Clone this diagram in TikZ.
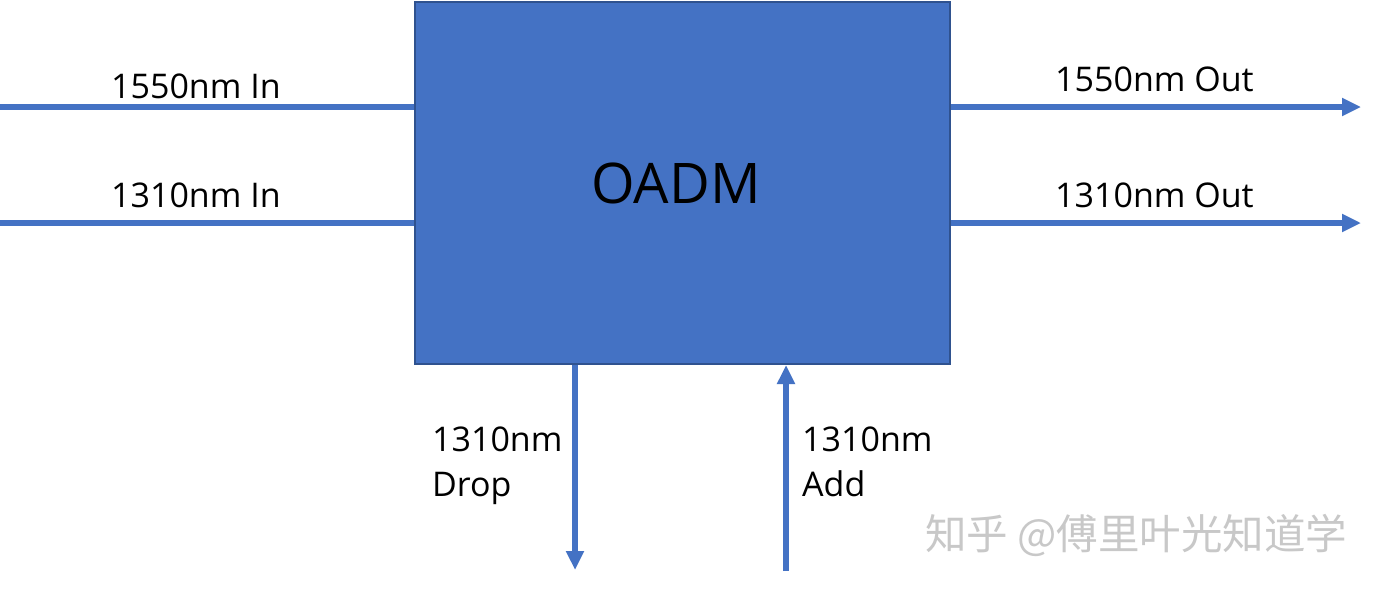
\documentclass[tikz,border=0pt]{standalone}
\usepackage{fontspec}
\setmainfont{Open Sans}
\newfontfamily\cjk{Noto Sans CJK SC}
\usetikzlibrary{arrows.meta}
\definecolor{oblue}{HTML}{4472C4}
\definecolor{oborder}{HTML}{2F528F}
\definecolor{wm}{HTML}{C8C8C8}
\begin{document}
\begin{tikzpicture}[x=1pt,y=-1pt,
  conn/.style={draw=oblue,line width=5.5pt},
  arr/.style={conn,-{Triangle[length=19pt,width=17pt]}},
  lbl/.style={anchor=base west,inner sep=0pt,font=\fontsize{34}{45}\selectfont,align=left},
  box/.style={draw=oborder,line width=2pt,fill=oblue}]
\useasboundingbox[fill=white] (0,0) rectangle (1380,589);
\node[box,minimum width=535pt,minimum height=362pt,anchor=north west,inner sep=0pt] (oadm) at (414,1) {};
\node[anchor=base,inner sep=0pt,font=\fontsize{56}{60}\selectfont] (t) at (676,203) {OADM};
\coordinate (i1) at (0,107);
\coordinate (i2) at (0,223);
\coordinate (o1) at (1361,107);
\coordinate (o2) at (1361,223);
\coordinate (d) at (575,570);
\coordinate (a) at (786,571);
\draw[conn] (i1) -- (i1 -| oadm.west);
\draw[conn] (i2) -- (i2 -| oadm.west);
\draw[arr] (o1 -| oadm.east) -- (o1);
\draw[arr] (o2 -| oadm.east) -- (o2);
\draw[arr] (d |- oadm.south) -- (d);
\draw[arr] (a) -- (a |- oadm.south);
\node[lbl] (l1) at (111,98) {1550nm In};
\node[lbl] (l2) at (111,207) {1310nm In};
\node[lbl] (l3) at (1055,91) {1550nm Out};
\node[lbl] (l4) at (1055,207) {1310nm Out};
\node[lbl] (l5) at (432,496) {1310nm\\Drop};
\node[lbl] (l6) at (802,496) {1310nm\\Add};
\node[anchor=base west,inner sep=0pt,text=wm,font=\cjk\fontsize{41.5}{42}\selectfont] (w) at (925,549) {知乎 @傅里叶光知道学};
\end{tikzpicture}
\end{document}
